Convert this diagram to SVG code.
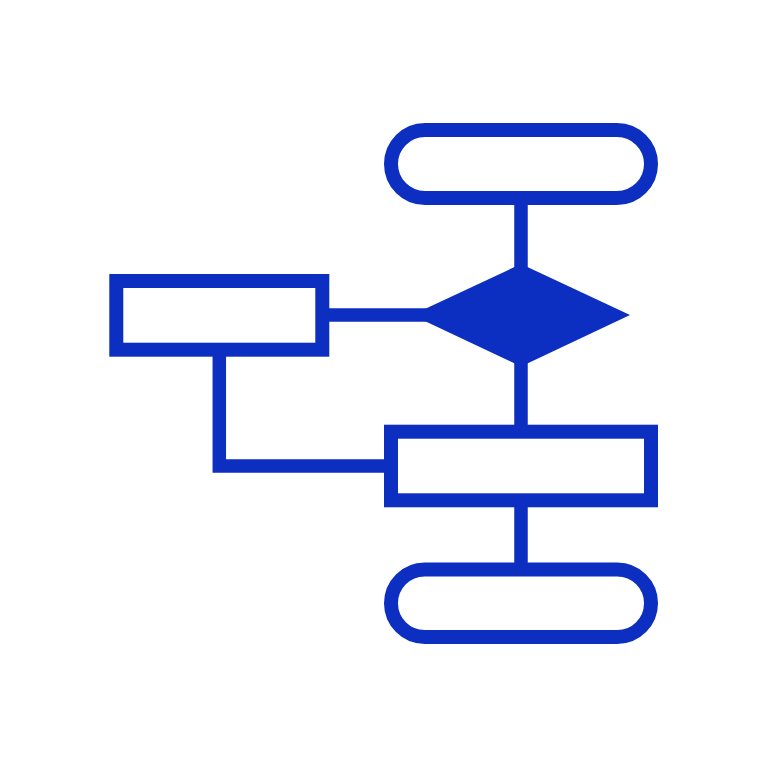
<svg xmlns="http://www.w3.org/2000/svg" width="768" height="768" viewBox="0 0 768 768">
<style>
.n{fill:none;stroke:#0c2fc1;stroke-width:14}
.c{fill:none;stroke:#0c2fc1;stroke-width:13.5}
</style>
<rect width="768" height="768" fill="#fff"/>
<g id="connectors">
<line class="c" x1="521" y1="198" x2="521" y2="270"/>
<line class="c" x1="521" y1="360" x2="521" y2="432"/>
<line class="c" x1="521" y1="500" x2="521" y2="570"/>
<line class="c" x1="322" y1="315" x2="430" y2="315"/>
<polyline class="c" points="219.3,349 219.3,466 391,466"/>
</g>
<g id="start"><rect class="n" x="391" y="130" width="260" height="68" rx="34"/></g>
<g id="process-left"><rect class="n" x="116.3" y="281" width="206" height="68.7"/></g>
<g id="decision"><polygon points="521,264 630,315 521,366.5 412,315" fill="#0c2fc1"/></g>
<g id="process-main"><rect class="n" x="391" y="431.7" width="260" height="68.6"/></g>
<g id="end"><rect class="n" x="391" y="569.5" width="260" height="67.5" rx="33.75"/></g>
</svg>
